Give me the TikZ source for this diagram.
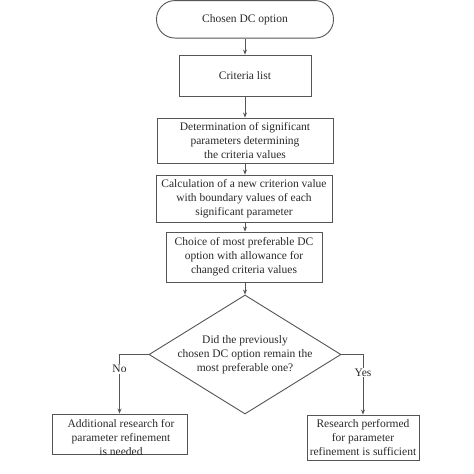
\documentclass[tikz,border=0pt]{standalone}
\usepackage{fontspec}
\setmainfont{Liberation Serif}
\usetikzlibrary{arrows.meta,shapes.geometric}
\definecolor{ln}{HTML}{555555}
\definecolor{tx}{HTML}{2A2A2A}
\tikzset{
  box/.style={draw=ln, line width=0.9pt, inner sep=0pt, text=tx, align=center, font=\fontsize{11.5}{14}\selectfont},
  txt/.style={inner sep=0pt, text=tx, align=center, font=\fontsize{11.5}{14}\selectfont},
  arr/.style={draw=ln, line width=0.9pt, -{Stealth[length=5pt,width=4pt]}},
}
\begin{document}
\begin{tikzpicture}[x=1pt,y=-1pt]
\useasboundingbox (0,0) rectangle (474,474);
\fill[white] (0,0) rectangle (474,474);
\node[box, rounded corners=18.5pt, minimum width=177pt, minimum height=37.5pt] (start) at (245,19.3) {Chosen DC option};
\node[box, minimum width=132pt, minimum height=41pt] (crit) at (245,75.5) {Criteria list};
\node[box, minimum width=176pt, minimum height=45pt] (det) at (245,140.5) {Determination of significant\\parameters determining\\the criteria values};
\node[box, minimum width=176pt, minimum height=47pt] (calc) at (244,198.5) {Calculation of a new criterion value\\with boundary values of each\\significant parameter};
\node[box, minimum width=156pt, minimum height=50pt] (choice) at (244,257) {Choice of most preferable DC\\option with allowance for\\changed criteria values};
\node[draw=ln, line width=0.9pt, shape=diamond, shape aspect=1.61, minimum width=192pt, minimum height=119pt, inner sep=0pt] (dec) at (245,354.5) {};
\node[txt] (dectext) at (245,355) {Did the previously\\chosen DC option remain the\\most preferable one?};
\node[box, minimum width=135pt, minimum height=40pt] (no) at (119.5,434) {};
\node[txt] (notext) at (121,437.5) {Additional research for\\parameter refinement\\is needed};
\node[box, minimum width=112pt, minimum height=45pt] (yes) at (363,437.5) {Research performed\\for parameter\\refinement is sufficient};
\coordinate (nocorner) at (119.5,354.5);
\coordinate (yescorner) at (363,354.5);
\draw[arr] (start.south) -- (crit.north);
\draw[arr] (crit.south) -- (det.north);
\draw[arr] (det.south) -- (det.south |- calc.north);
\draw[arr] (det.south |- calc.south) -- (det.south |- choice.north);
\draw[arr] (det.south |- choice.south) -- (dec.north);
\draw[arr] (dec.west) -- (nocorner) -- (no.north) node[txt, pos=0.25, fill=white, inner sep=1pt] (nolab) {No};
\draw[arr] (dec.east) -- (yescorner) -- (yes.north) node[txt, pos=0.3, fill=white, inner sep=1pt] (yeslab) {Yes};
\end{tikzpicture}
\end{document}
